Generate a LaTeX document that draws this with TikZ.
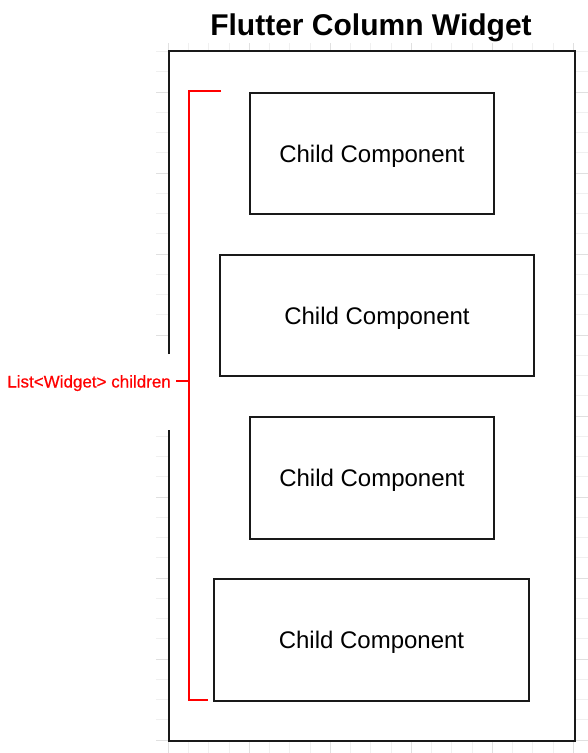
\documentclass[tikz,border=0pt]{standalone}
\usepackage{fontspec}
\setmainfont{Liberation Sans}
\newfontfamily\labelfont{Liberation Sans}[FakeBold=0.6]
\definecolor{gridminor}{HTML}{F0F0F0}
\definecolor{gridmajor}{HTML}{E0E0E0}
\definecolor{bracketred}{HTML}{FF0000}
\begin{document}
\begin{tikzpicture}[x=1pt,y=-1pt,
  childbox/.style={draw=black!90, line width=1.7pt, fill=white, inner sep=0pt,
    text depth=0pt, font=\fontsize{24}{28}\selectfont},
  framestyle/.style={draw=black!90, line width=1.8pt},
  bracketstyle/.style={draw=bracketred, line width=2.8pt},
  gridmin/.style={draw=gridminor, line width=0.8pt},
  gridmaj/.style={draw=gridmajor, line width=0.8pt}]
\useasboundingbox (0,0) rectangle (588,753);
\fill[white] (0,0) rectangle (588,753);
% background grid
\foreach \i in {0,...,20} {
  \pgfmathsetmacro{\xx}{168.3+20.25*\i}
  \draw[gridmin] (\xx,43) -- (\xx,753);
}
\foreach \i in {0,...,34} {
  \pgfmathsetmacro{\yy}{51.5+20.25*\i}
  \draw[gridmin] (156,\yy) -- (588,\yy);
}
\foreach \i in {0,...,5} {
  \pgfmathsetmacro{\xx}{168.3+81*\i}
  \draw[gridmaj] (\xx,43) -- (\xx,753);
}
\foreach \i in {0,...,8} {
  \pgfmathsetmacro{\yy}{92+81*\i}
  \draw[gridmaj] (156,\yy) -- (588,\yy);
}
% outer frame interior and label background
\fill[white] (169,51) rectangle (575,741);
\fill[white] (150,354) rectangle (176,430);
% title
\node[anchor=base, font=\fontsize{30}{34}\selectfont\bfseries] (title) at (371,35) {Flutter Column Widget};
% outer frame with gap at label
\coordinate (fa) at (169,354);
\coordinate (fb) at (169,51);
\coordinate (fc) at (575,51);
\coordinate (fd) at (575,741);
\coordinate (fe) at (169,741);
\coordinate (ff) at (169,430);
\draw[framestyle, line join=miter] (fa) -- (fb) -- (fc) -- (fd) -- (fe) -- (ff);
% children
\node[childbox, minimum width=244pt, minimum height=121pt] (c1) at (372,153.5) {Child Component};
\node[childbox, minimum width=314pt, minimum height=121pt] (c2) at (377,315.5) {Child Component};
\node[childbox, minimum width=244pt, minimum height=122pt] (c3) at (372,478) {Child Component};
\node[childbox, minimum width=315pt, minimum height=122pt] (c4) at (371.5,640) {Child Component};
% bracket
\coordinate (bt) at (221,91);
\coordinate (btl) at (189,91);
\coordinate (bbl) at (189,700);
\coordinate (bb) at (208,700);
\coordinate (bm) at (189,381);
\draw[bracketstyle] (bt) -- (btl) -- (bbl) -- (bb);
% label
\node[anchor=base east, inner sep=0pt, text=bracketred, font=\labelfont\fontsize{17}{20}\selectfont] (lbl) at (171,387.5) {List<Widget> children};
\coordinate (tk) at (176,381);
\draw[bracketstyle] (tk) -- (bm);
\end{tikzpicture}
\end{document}
